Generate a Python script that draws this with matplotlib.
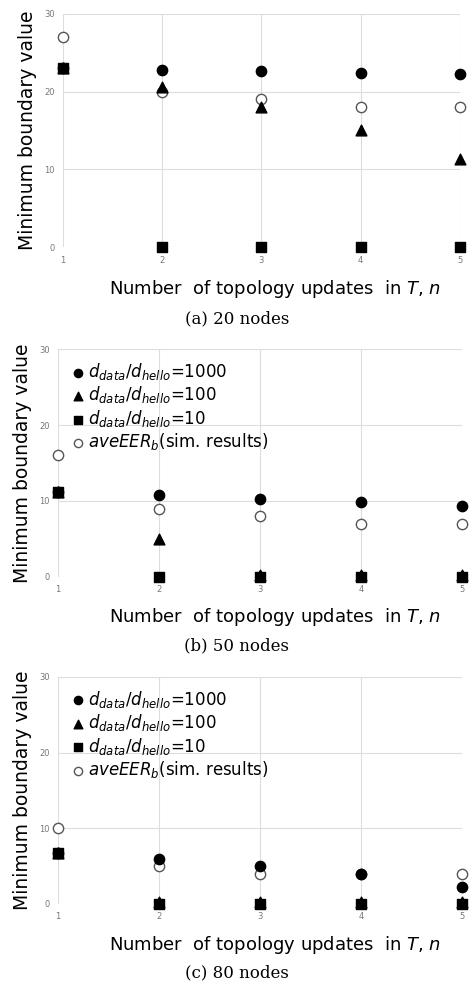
import matplotlib
matplotlib.use("Agg")
import matplotlib.pyplot as plt

x = [1, 2, 3, 4, 5]
a_1000 = [23, 22.8, 22.6, 22.4, 22.2]
a_100 = [23, 20.6, 18, 15, 11.3]
a_10 = [23, 0, 0, 0, 0]
a_sim = [27, 20, 19, 18, 18]
b_1000 = [11.2, 10.8, 10.3, 9.8, 9.3]
b_100 = [11.2, 5, 0.3, 0.3, 0.3]
b_10 = [11.2, 0, 0, 0, 0]
b_sim = [16, 9, 8, 7, 7]
c_1000 = [6.7, 6, 5, 4, 2.3]
c_100 = [6.7, 0.3, 0.3, 0.3, 0.3]
c_10 = [6.7, 0, 0, 0, 0]
c_sim = [10, 5, 4, 3.9, 4]
captions = ["(a) 20 nodes", "(b) 50 nodes", "(c) 80 nodes"]
yticks = [0, 10, 20, 30]

fig = plt.figure(figsize=(4.74, 9.81), dpi=100)
rects = [(0.133, 0.748, 0.837, 0.238), (0.122, 0.412, 0.853, 0.232), (0.122, 0.0785, 0.853, 0.2315)]
data = [(a_1000, a_100, a_10, a_sim), (b_1000, b_100, b_10, b_sim), (c_1000, c_100, c_10, c_sim)]
xlab_y = [0.705, 0.371, 0.037]
cap_y = [0.666, 0.333, 0.0]
for i, (r, d) in enumerate(zip(rects, data)):
    ax = fig.add_axes(r)
    s1000, s100, s10, ssim = d
    ax.scatter(x, ssim, marker='o', s=55, facecolor='white', edgecolor='#555555', linewidth=1, zorder=3, clip_on=False, label=r'$aveEER_b$(sim. results)')
    ax.scatter(x, s1000, marker='o', s=55, color='black', zorder=4, clip_on=False, label=r'$d_{data}/d_{hello}$=1000')
    ax.scatter(x, s100, marker='^', s=60, color='black', zorder=5, clip_on=False, label=r'$d_{data}/d_{hello}$=100')
    ax.scatter(x, s10, marker='s', s=55, color='black', zorder=6, clip_on=False, label=r'$d_{data}/d_{hello}$=10')
    ax.set_xlim(1, 5)
    ax.set_ylim(0, 30)
    ax.set_xticks(x)
    ax.set_yticks(yticks)
    ax.grid(True, color='#dddddd', linewidth=0.8)
    ax.set_axisbelow(True)
    for sp in ax.spines.values():
        sp.set_visible(False)
    ax.tick_params(length=0, labelsize=6, labelcolor='#777777', pad=6)
    ax.set_ylabel("Minimum boundary value", fontsize=13.5, labelpad=5)
    if i > 0:
        h, l = ax.get_legend_handles_labels()
        order = [1, 2, 3, 0]
        ax.legend([h[k] for k in order], [l[k] for k in order], loc='upper left', frameon=False,
                  fontsize=12, handletextpad=0.1, labelspacing=0.15, borderaxespad=0.3,
                  handlelength=1.0, markerscale=0.8)
    fig.text(0.58, xlab_y[i], r"Number  of topology updates  in $T$, $n$", fontsize=13, ha='center', va='center')
    fig.text(0.5, cap_y[i], captions[i], fontsize=12, ha='center', va='bottom', family='DejaVu Serif')

fig.savefig("out.png", dpi=100)
